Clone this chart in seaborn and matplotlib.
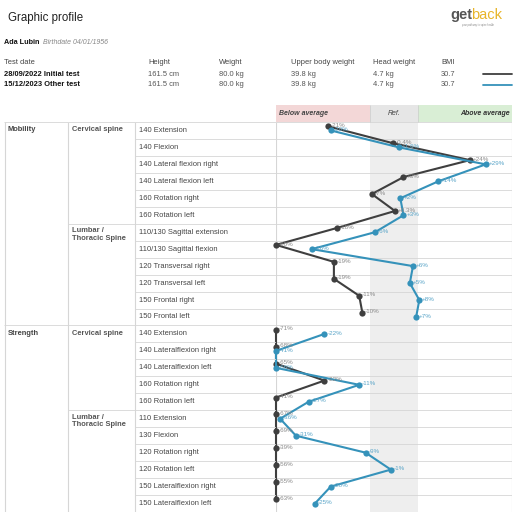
import numpy as np
import pandas as pd
import matplotlib.pyplot as plt
import seaborn as sns

# ---- data -------------------------------------------------------------
sections = ["Mobility", "Strength"]
groups = ["Cervical spine", "Lumbar /\nThoracic Spine"]

mobility_tests = [
    "140 Extension", "140 Flexion", "140 Lateral flexion right",
    "140 Lateral flexion left", "160 Rotation right", "160 Rotation left",
    "110/130 Sagittal extension", "110/130 Sagittal flexion",
    "120 Transversal right", "120 Transversal left",
    "150 Frontal right", "150 Frontal left",
]
strength_tests = [
    "140 Extension", "140 Lateralflexion right", "140 Lateralflexion left",
    "160 Rotation right", "160 Rotation left",
    "110 Extension", "130 Flexion", "120 Rotation right", "120 Rotation left",
    "150 Lateralflexion right", "150 Lateralflexion left",
]
# number of cervical rows in each section
cervical_rows = [6, 5]

mobility_initial = [-21, -0.4, 24, 3, -7, 0.3, -18, -60, -19, -19, -11, -10]
mobility_other = [-20, 1.6, 29, 14, 2, 3, -6, -26, 6, 5, 8, 7]
strength_initial = [-71, -68, -65, -22, -41, -67, -69, -39, -56, -55, -63]
strength_other = [-22, -41, -66, -11, -27, -36, -31, -9, -1, -20, -25]

test_names = ["28/09/2022 Initial test", "15/12/2023 Other test"]
heights = ["161.5 cm", "161.5 cm"]
weights = ["80.0 kg", "80.0 kg"]
upper_weights = ["39.8 kg", "39.8 kg"]
head_weights = ["4.7 kg", "4.7 kg"]
bmis = ["30.7", "30.7"]

# ---- style ------------------------------------------------------------
sns.set_theme(style="white")
plt.rcParams["font.family"] = ["Liberation Sans", "DejaVu Sans"]

W, H = 518, 513
XMIN, XMAX = -37.3, 37.3
REF = 7.5
colors = {test_names[0]: "#3f3f3f", test_names[1]: "#3592ba"}
label_colors = {test_names[0]: "#8a8a8a", test_names[1]: "#5aa5c8"}
offsets = {test_names[0]: -0.25, test_names[1]: 0.0}
grid_c = "#d6d6d6"
fs = 5.4

rows = []
row = 0
for sec, tests, ini, oth in [
    ("Mobility", mobility_tests, mobility_initial, mobility_other),
    ("Strength", strength_tests, strength_initial, strength_other),
]:
    for i, t in enumerate(tests):
        for name, vals in [(test_names[0], ini), (test_names[1], oth)]:
            rows.append({"section": sec, "row": row + i, "item": t,
                         "test": name, "value": vals[i]})
    row += len(tests)
df = pd.DataFrame(rows)
df["x"] = df["value"].clip(lower=XMIN)
df["y"] = df["row"] + df["test"].map(offsets)
n_rows = row

fig = plt.figure(figsize=(W / 100, H / 100), dpi=100)


def fx(px):
    return px / W


def fy(py):
    return 1 - py / H


# ---- header -----------------------------------------------------------
fig.text(fx(8), fy(18), "Graphic profile", fontsize=8.3, color="#222",
         va="center")
fig.text(fx(450), fy(15), "get", fontsize=10.5, color="#555", va="center",
         fontweight="bold")
fig.text(fx(471), fy(15), "back", fontsize=10.5, color="#e8b52a", va="center")
fig.text(fx(462), fy(25), "your pathway to spine health", fontsize=1.8,
         color="#888", va="center")

fig.text(fx(4), fy(42), "Ada Lubin", fontsize=5.2, fontweight="bold",
         color="#111", va="center")
fig.text(fx(43), fy(42), "Birthdate 04/01/1956", fontsize=5,
         fontstyle="italic", color="#888", va="center")

col_x = [4, 148, 219, 291, 373, 441]
for x, h in zip(col_x, ["Test date", "Height", "Weight", "Upper body weight",
                        "Head weight", "BMI"]):
    fig.text(fx(x), fy(62), h, fontsize=fs, color="#444", va="center")
for k, yy in enumerate([74, 85]):
    fig.text(fx(4), fy(yy), test_names[k], fontsize=fs, fontweight="bold",
             color="#111", va="center")
    for x, v in zip(col_x[1:], [heights[k], weights[k], upper_weights[k],
                                head_weights[k], bmis[k]]):
        fig.text(fx(x), fy(yy), v, fontsize=fs, color="#555", va="center")
    fig.add_artist(plt.Line2D([fx(483), fx(512)], [fy(yy), fy(yy)],
                              color=colors[test_names[k]], lw=1.3))

# ---- axes -------------------------------------------------------------
top, bottom = 105, 512
ax = fig.add_axes([fx(276), fy(bottom), fx(512) - fx(276),
                   fy(top) - fy(bottom)])
tab = fig.add_axes([fx(4), fy(bottom), fx(276) - fx(4),
                    fy(top) - fy(bottom)])
for a in (ax, tab):
    a.set_ylim(n_rows - 0.5, -1.5)
    a.set_axis_off()
ax.set_xlim(XMIN, XMAX)
tab.set_xlim(4, 276)

# chart background bands
ax.fill_betweenx([-0.5, n_rows - 0.5], -REF, REF, color="#eeeeee", lw=0)
ax.fill_betweenx([-1.5, -0.5], XMIN, -REF, color="#f3d7d7", lw=0)
ax.fill_betweenx([-1.5, -0.5], -REF, REF, color="#e6e6e6", lw=0)
ax.fill_betweenx([-1.5, -0.5], REF, XMAX, color="#d9eed5", lw=0)
ax.text(XMIN + 1, -1, "Below average", fontsize=5, fontstyle="italic",
        fontweight="bold", color="#444", va="center")
ax.text(0, -1, "Ref.", fontsize=5, fontstyle="italic", color="#444",
        va="center", ha="center")
ax.text(XMAX - 0.6, -1, "Above average", fontsize=5, fontstyle="italic",
        fontweight="bold", color="#333", va="center", ha="right")
ax.vlines([-REF, REF], -1.5, -0.5, color="#cccccc", lw=0.5)

for b in np.arange(-0.5, n_rows, 1.0):
    ax.axhline(b, color=grid_c, lw=0.6, zorder=1)
ax.vlines([XMIN, XMAX], -0.5, n_rows - 0.5, color=grid_c, lw=0.8)

# table lines
n_mob = len(mobility_tests)
for b in np.arange(-0.5, n_rows, 1.0):
    tab.hlines(b, 135, 276, color=grid_c, lw=0.6)
for b in [-0.5, cervical_rows[0] - 0.5, n_mob - 0.5,
          n_mob + cervical_rows[1] - 0.5, n_rows - 0.5]:
    tab.hlines(b, 68, 135, color=grid_c, lw=0.6)
for b in [-0.5, n_mob - 0.5, n_rows - 0.5]:
    tab.hlines(b, 4, 68, color=grid_c, lw=0.6)
tab.vlines([4.5, 68, 135], -0.5, n_rows - 0.5, color=grid_c, lw=0.8)

starts = [0, n_mob]
for s, sec in enumerate(sections):
    tab.text(8, starts[s] - 0.05, sec, fontsize=fs, fontweight="bold",
             color="#444", va="center")
    tab.text(72, starts[s] - 0.05, groups[0], fontsize=fs,
             fontweight="bold", color="#555", va="center")
    tab.text(72, starts[s] + cervical_rows[s] - 0.3, groups[1], fontsize=fs,
             fontweight="bold", color="#555", va="top", linespacing=1.1)
for r, name in enumerate(mobility_tests + strength_tests):
    tab.text(139, r, name, fontsize=fs, color="#444", va="center")

# ---- lines ------------------------------------------------------------
sns.lineplot(data=df, x="x", y="y", hue="test", units="section",
             estimator=None, sort=False, palette=colors, marker="o",
             markersize=4.5, markeredgewidth=0, linewidth=1.5, legend=False,
             ax=ax, zorder=3, clip_on=False)
ax.set_xlim(XMIN, XMAX)
ax.set_ylim(n_rows - 0.5, -1.5)
ax.set_axis_off()

for _, r in df.iterrows():
    txt = f"{r['value']:+g}%"
    ax.text(r["x"] + 0.9, r["y"] - 0.05, txt, fontsize=4.5,
            color=label_colors[r["test"]], va="center", zorder=4)

fig.savefig("out.png", dpi=100, facecolor="white")
